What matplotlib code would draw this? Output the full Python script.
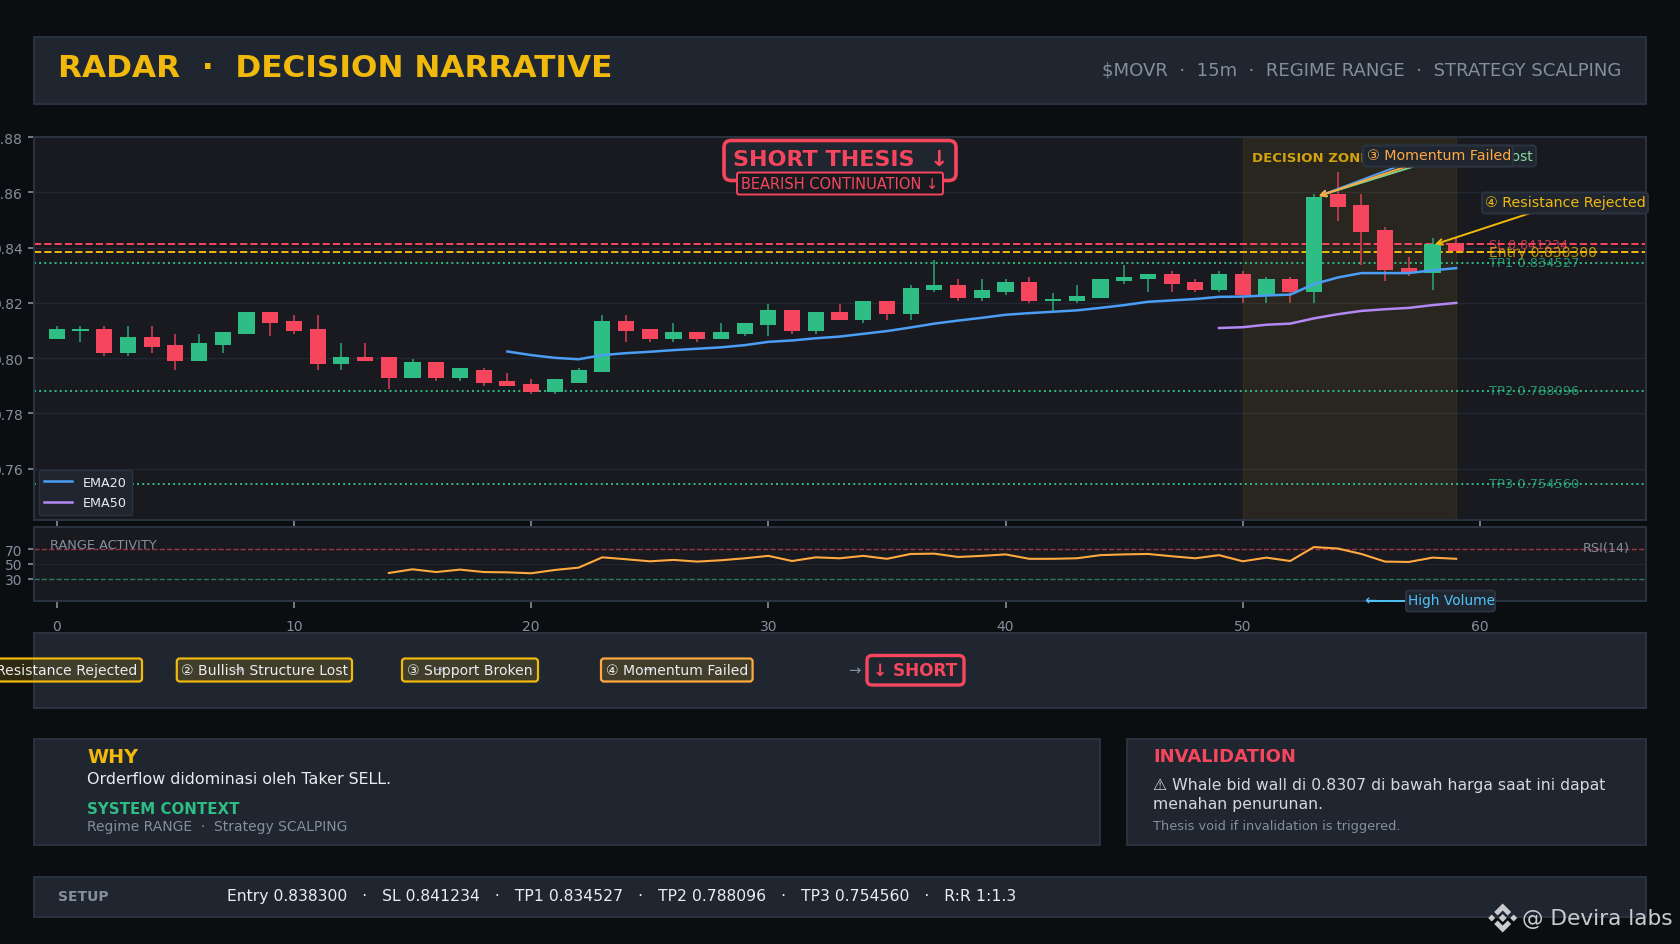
import matplotlib
matplotlib.use('Agg')
import matplotlib.pyplot as plt
from matplotlib.patches import FancyBboxPatch, Rectangle, Polygon
from matplotlib.transforms import Affine2D

W, H = 1680, 945

# colours
BG = '#0B0E11'
PANEL = '#1F2630'
PLOT = '#181A20'
EDGE = '#2B3340'
GOLD = '#F0B90B'
RED = '#F6465D'
GREEN = '#2EBD85'
GREY = '#848E9C'
LIGHT = '#EAECEF'
BLUE = '#4A9EF5'
PURPLE = '#B388F5'
ORANGE = '#FFA940'

# candles
opens = [.8069, .8098, .8105, .8018, .8076, .8047, .7989, .8047, .8087, .8166,
         .8134, .8105, .7978, .8004, .8004, .7928, .7986, .7928, .7957, .7917,
         .7906, .7877, .7910, .7949, .8134, .8105, .8069, .8094, .8069, .8087,
         .8119, .8174, .8098, .8166, .8138, .8206, .8159, .8246, .8264, .8217,
         .8239, .8275, .8206, .8206, .8217, .8279, .8286, .8304, .8275, .8246,
         .8304, .8228, .8286, .8239, .8593, .8554, .8463, .8326, .8308, .8416]
highs = [.8116, .8116, .8116, .8116, .8116, .8087, .8087, .8094, .8166, .8166,
         .8156, .8156, .8054, .8054, .8004, .7996, .7986, .7964, .7964, .7946,
         .7924, .7924, .7964, .8156, .8156, .8105, .8127, .8094, .8127, .8127,
         .8195, .8174, .8166, .8195, .8206, .8206, .8264, .8355, .8286, .8286,
         .8286, .8293, .8235, .8264, .8286, .8337, .8304, .8315, .8286, .8315,
         .8315, .8293, .8293, .8593, .8673, .8593, .8474, .8366, .8434, .8434]
lows = [.8069, .8058, .8007, .8007, .8018, .7957, .7989, .8018, .8087, .8080,
        .8087, .7957, .7957, .7989, .7888, .7928, .7917, .7917, .7899, .7899,
        .7870, .7870, .7910, .7949, .8058, .8058, .8058, .8058, .8069, .8080,
        .8080, .8087, .8087, .8138, .8127, .8138, .8138, .8239, .8206, .8206,
        .8228, .8199, .8166, .8199, .8217, .8268, .8239, .8239, .8239, .8239,
        .8199, .8199, .8199, .8199, .8496, .8337, .8279, .8297, .8246, .8387]
closes = [.8105, .8105, .8018, .8076, .8040, .7989, .8054, .8094, .8166, .8127,
          .8098, .7978, .8004, .7989, .7928, .7986, .7928, .7964, .7910, .7899,
          .7877, .7924, .7957, .8134, .8098, .8069, .8094, .8069, .8094, .8127,
          .8174, .8098, .8166, .8138, .8206, .8159, .8253, .8264, .8217, .8246,
          .8275, .8206, .8214, .8224, .8286, .8293, .8304, .8268, .8246, .8304,
          .8228, .8286, .8239, .8583, .8546, .8456, .8318, .8308, .8413, .8387]

ema20_start = 19
ema20 = [.8024, .8011, .8001, .7996, .8011, .8018, .8023, .8029, .8034, .8039, .8047,
         .8059, .8064, .8072, .8078, .8088, .8098, .8111, .8125, .8136, .8146, .8157,
         .8163, .8168, .8173, .8182, .8192, .8204, .8209, .8214, .8222, .8223, .8227,
         .8230, .8268, .8292, .8308, .8308, .8308, .8318, .8326]
ema50_start = 49
ema50 = [.8109, .8112, .8121, .8125, .8144, .8159, .8171, .8177, .8182, .8192, .8200]

rsi_start = 14
rsi = [37.7, 42.7, 39, 42.3, 39, 38.6, 37.3, 41.8, 45, 59, 56.4, 53.6, 55.5, 53.2, 55,
       57.7, 61, 54, 59, 57.7, 61, 57, 63.6, 64, 59.5, 61, 63, 57, 57, 57.7, 62, 63,
       63.6, 60.5, 57.7, 62, 53.6, 58.6, 54, 73, 71, 63.6, 53.2, 52.7, 58.6, 57]

level_names = ['SL', 'Entry', 'TP1', 'TP2', 'TP3']
level_values = [0.841234, 0.838300, 0.834527, 0.788096, 0.754560]

flow_labels = ['① Resistance Rejected', '② Bullish Structure Lost', '③ Support Broken', '④ Momentum Failed']

plt.rcParams['font.family'] = 'DejaVu Sans'
fig = plt.figure(figsize=(W / 100, H / 100), dpi=100, facecolor=BG)

# pixel coords, y going down
px = Affine2D().scale(1, -1).translate(0, H)


def panel(x0, y0, x1, y1):
    fig.add_artist(Rectangle((x0, y0), x1 - x0, y1 - y0, transform=px, facecolor=PANEL,
                             edgecolor=EDGE, linewidth=1.4, zorder=-1))


def label(x, y, s, color=LIGHT, size=10, weight='normal', ha='left', alpha=1, z=6, **kw):
    return fig.text(x, y + 1.5, s, transform=px, color=color, fontsize=size, fontweight=weight,
                    ha=ha, va='center', alpha=alpha, zorder=z, **kw)


def box(x0, y0, x1, y1, face, edge, lw, r=3, alpha=None, z=5):
    p = FancyBboxPatch((x0 + r, y0 + r), x1 - x0 - 2 * r, y1 - y0 - 2 * r, boxstyle='round,pad=%d,rounding_size=%d' % (r, r),
                       transform=px, facecolor=face, edgecolor=edge, linewidth=lw, zorder=z)
    fig.add_artist(p)
    return p


def axes_px(x0, y0, x1, y1):
    return fig.add_axes([x0 / W, 1 - y1 / H, (x1 - x0) / W, (y1 - y0) / H], facecolor=PLOT)


panel(33.5, 38.2, 1646, 104.7)
panel(33.5, 633.8, 1646, 708.8)
panel(33.5, 740, 1100, 846)
panel(1126.5, 740, 1646, 846)
panel(33.5, 878, 1646, 918)

# main chart
ax = axes_px(33.5, 137.7, 1646, 521.2)
x = list(range(len(opens)))
for i in x:
    col = GREEN if closes[i] >= opens[i] else RED
    ax.vlines(i, lows[i], highs[i], color=col, linewidth=1.2, alpha=0.8, zorder=3)
    ax.bar(i, abs(closes[i] - opens[i]), bottom=min(opens[i], closes[i]), width=0.68, color=col, zorder=4)

ax.axvspan(50, 59, color=GOLD, alpha=0.08, zorder=1, linewidth=1)
ax.plot(range(ema20_start, ema20_start + len(ema20)), ema20, color=BLUE, linewidth=1.8, label='EMA20', zorder=5)
ax.plot(range(ema50_start, ema50_start + len(ema50)), ema50, color=PURPLE, linewidth=1.8, label='EMA50', zorder=5)

styles = [(RED, '--'), (GOLD, '--'), (GREEN, ':'), (GREEN, ':'), (GREEN, ':')]
sizes = [9.1, 10.1, 9.4, 9.4, 9.4]
for name, val, (col, ls), fs in zip(level_names, level_values, styles, sizes):
    ax.axhline(val, color=col, linestyle=ls, linewidth=1.4, zorder=2)
    ax.text(60.4, val, '%s %.6f' % (name, val), color=col, fontsize=fs, alpha=0.75, va='center', zorder=6)

ax.set_xlim(-0.98, 67)
ax.set_ylim(0.7413, 0.8802)
ax.set_yticks([0.76, 0.78, 0.80, 0.82, 0.84, 0.86, 0.88])
ax.yaxis.set_major_formatter(lambda v, pos: '%.2f' % v)
ax.set_xticks(range(0, 61, 10))
ax.tick_params(axis='y', colors=GREY, labelsize=10, length=4, width=1.2, pad=4)
ax.tick_params(axis='x', colors=GREY, labelbottom=False, length=5, width=1.2)
ax.grid(axis='y', color=EDGE, alpha=0.55, linewidth=1, zorder=0)
ax.set_axisbelow(True)
for s in ax.spines.values():
    s.set_color(EDGE)
    s.set_linewidth(1.4)
ax.legend(loc='lower left', fontsize=9.2, facecolor=PANEL, edgecolor=EDGE, labelcolor=LIGHT, framealpha=1,
          handlelength=2.2, borderaxespad=0.4, labelspacing=0.6, borderpad=0.45).set_zorder(8)

# rsi
ax2 = axes_px(33.5, 528.2, 1646, 601.7)
ax2.plot(range(rsi_start, rsi_start + len(rsi)), rsi, color=ORANGE, linewidth=1.5, zorder=4)
ax2.axhline(70, color=RED, linestyle='--', linewidth=1, alpha=0.6)
ax2.axhline(50, color=EDGE, linewidth=0.8, alpha=0.5)
ax2.axhline(30, color=GREEN, linestyle='--', linewidth=1, alpha=0.6)
ax2.set_xlim(-0.98, 67)
ax2.set_ylim(0, 100)
ax2.set_yticks([30, 50, 70])
ax2.set_xticks(range(0, 61, 10))
ax2.tick_params(axis='both', colors=GREY, labelsize=10, length=5, width=1.2)
ax2.tick_params(axis='y', length=4, pad=4)
ax2.tick_params(axis='x', pad=8)
for s in ax2.spines.values():
    s.set_color(EDGE)
    s.set_linewidth(1.4)
label(50, 544, 'RANGE ACTIVITY', GREY, 9.3)
label(1630, 547.5, 'RSI(14)', GREY, 9.2, ha='right')

# header
label(58, 67.5, 'RADAR  ·  DECISION NARRATIVE', GOLD, 22.4, 'bold')
label(1621.5, 69, '$MOVR  ·  15m  ·  REGIME RANGE  ·  STRATEGY SCALPING', GREY, 13.08, ha='right')

# thesis badge
box(724, 141.5, 956, 181.5, PANEL, RED, 2.6, r=7)
label(733, 158, 'SHORT THESIS  ↓', RED, 16, 'bold', z=6)
box(737, 173.5, 943, 195.5, PLOT, RED, 1.4, r=2, z=7)
label(840, 183, 'BEARISH CONTINUATION ↓', RED, 10.5, ha='center', z=8)

# zone + annotations
label(1252, 157, 'DECISION ZONE', GOLD, 9.5, 'bold', alpha=0.85, z=4)
arrow_ends = [((1398.6, 167), BLUE), ((1413, 167.7), '#7FD08A'), ((1406, 167.5), ORANGE)]
for (ex, ey), col in arrow_ends:
    ax.annotate('', xy=(53.2, 0.8587), xycoords='data', xytext=(ex, ey), textcoords=px,
                arrowprops=dict(arrowstyle='->', color=col, lw=1.4, shrinkA=0, shrinkB=0), zorder=7, annotation_clip=False)
ax.annotate('', xy=(58.1, 0.8412), xycoords='data', xytext=(1529.6, 214.3), textcoords=px,
            arrowprops=dict(arrowstyle='->', color=GOLD, lw=1.4, shrinkA=0, shrinkB=0), zorder=7)

box(1380, 146.5, 1536, 167.5, PANEL, EDGE, 1.4, z=5)
label(1533, 155.5, '② Bullish Structure Lost', '#8BD99B', 10, ha='right', z=5.1)
box(1363, 146.5, 1513, 167.5, PANEL, EDGE, 1.4, z=5.2)
label(1367, 155, '③ Momentum Failed', ORANGE, 10.3, z=5.3)
box(1482, 193.5, 1648, 214.5, PANEL, EDGE, 1.4, z=5.2)
label(1485, 202, '④ Resistance Rejected', GOLD, 10.3, z=5.3)

# high volume tag
fig.add_artist(plt.Line2D([1367.6, 1406], [601.5, 601.5], transform=px, color='#4FC3F7', linewidth=1.4, zorder=5))
label(1364, 599.5, '←', '#4FC3F7', 11, z=5)
box(1406, 591.5, 1495, 612.5, PANEL, EDGE, 1.4, z=5)
label(1451, 600, 'High Volume', '#4FC3F7', 9.8, ha='center', z=6)

# decision flow
for xa in [238, 439, 648]:
    label(xa, 669, '→', GREY, 9, ha='center', z=5.5)
label(854, 669.5, '→', GREY, 10.5, ha='center')
flow_boxes = [(-25, 142), (176.8, 352), (402, 538), (601, 752.6)]
for (x0, x1), s, i in zip(flow_boxes, flow_labels, range(4)):
    edge = ORANGE if i == 3 else GOLD
    p = box(x0, 659.5, x1, 682.5, GOLD, edge, 1.6, r=3)
    p.set_facecolor((0.94, 0.725, 0.043, 0.16))
    label((x0 + x1) / 2, 669.5, s, LIGHT, 10.1, ha='center')
box(867, 656.5, 964, 686, 'none', RED, 2.4, r=5)
label(915.5, 669, '↓ SHORT', RED, 12.2, 'bold', ha='center')

# why
label(87, 756, 'WHY', GOLD, 13.8, 'bold')
label(87, 778.5, 'Orderflow didominasi oleh Taker SELL.', LIGHT, 11.4)
label(87, 808.5, 'SYSTEM CONTEXT', GREEN, 10.8, 'bold')
label(87, 826, 'Regime RANGE  ·  Strategy SCALPING', GREY, 10)

# invalidation
label(1153, 756, 'INVALIDATION', RED, 13, 'bold')
label(1153, 784.5, '⚠ Whale bid wall di 0.8307 di bawah harga saat ini dapat', LIGHT, 11.3, alpha=0.9)
label(1153, 803.5, 'menahan penurunan.', LIGHT, 11.3, alpha=0.9)
label(1153, 825, 'Thesis void if invalidation is triggered.', GREY, 9.3)

# setup
label(58, 895.5, 'SETUP', GREY, 10, 'bold')
label(227, 895.5, 'Entry 0.838300   ·   SL 0.841234   ·   TP1 0.834527   ·   TP2 0.788096   ·   TP3 0.754560   ·   R:R 1:1.3', LIGHT, 11.23)

# watermark
WM = '#C9CBCF'
cx, cy = 1502.7, 919
shapes = [
    [(cx, cy - 4), (cx + 4, cy), (cx, cy + 4), (cx - 4, cy)],
    [(cx - 14.5, cy), (cx - 11, cy - 3.5), (cx - 7.5, cy), (cx - 11, cy + 3.5)],
    [(cx + 14.5, cy), (cx + 11, cy - 3.5), (cx + 7.5, cy), (cx + 11, cy + 3.5)],
    [(cx, cy - 14.5), (cx + 8.5, cy - 6), (cx + 5, cy - 2.5), (cx, cy - 7.5), (cx - 5, cy - 2.5), (cx - 8.5, cy - 6)],
    [(cx, cy + 14.5), (cx + 8.5, cy + 6), (cx + 5, cy + 2.5), (cx, cy + 7.5), (cx - 5, cy + 2.5), (cx - 8.5, cy + 6)],
]
for pts in shapes:
    fig.add_artist(Polygon(pts, closed=True, transform=px, facecolor=WM, edgecolor='none', zorder=9))
label(1522, 917.5, '@ Devira labs', WM, 15.6, z=9)

fig.savefig('out.png', dpi=100, facecolor=BG)
